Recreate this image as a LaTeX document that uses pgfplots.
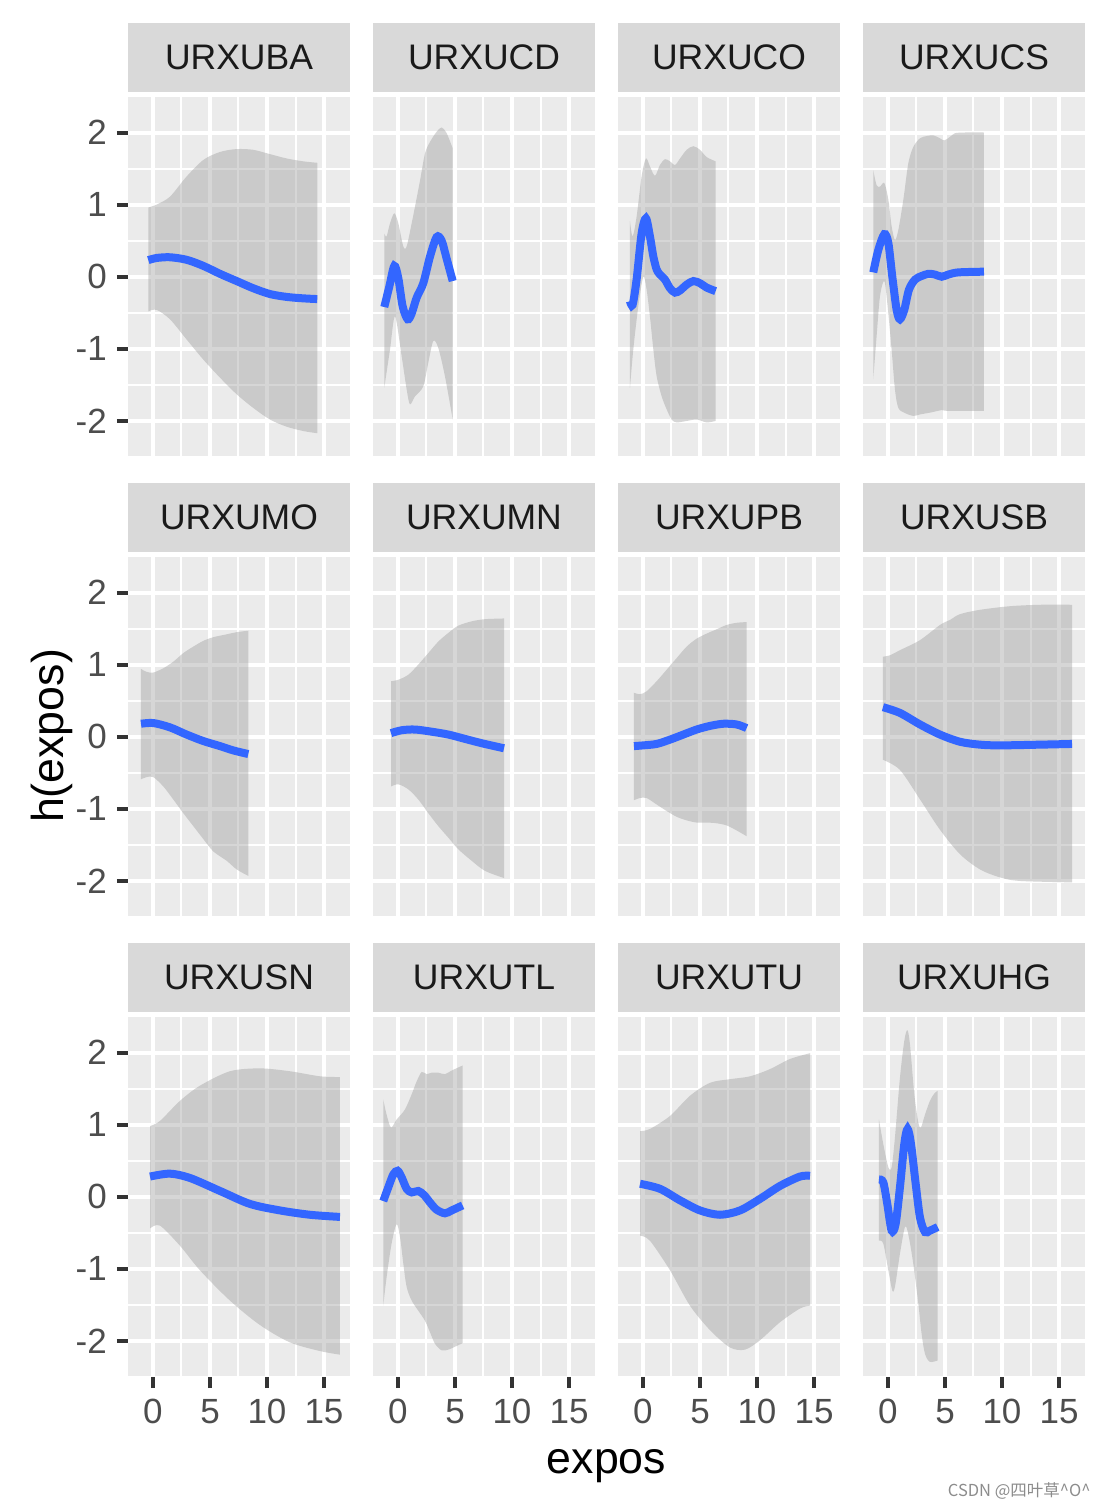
\documentclass[border=0pt]{standalone}
\usepackage{pgfplots}
\pgfplotsset{compat=1.18}
\usepgfplotslibrary{fillbetween}
\usepackage{fontspec}
\setmainfont{Liberation Sans}
\newfontfamily\cjk{Noto Sans CJK SC}

\definecolor{panelbg}{HTML}{EBEBEB}
\definecolor{stripbg}{HTML}{D9D9D9}
\definecolor{striptext}{HTML}{1A1A1A}
\definecolor{tickcol}{HTML}{333333}
\definecolor{labcol}{HTML}{4D4D4D}
\definecolor{smoothblue}{HTML}{3366FF}
\definecolor{ribbon}{HTML}{999999}

\pgfplotsset{
  facet/.style={
    width=222pt, height=362pt, scale only axis, anchor=north west,
    xmin=-2.19, xmax=17.28, ymin=-2.5, ymax=2.52,
    axis background/.style={fill=panelbg},
    axis line style={draw=none},
    xtick={0,5,10,15}, ytick={-2,-1,0,1,2},
    minor xtick={2.5,7.5,12.5},
    minor ytick={-2.5,-1.5,-0.5,0.5,1.5,2.5},
    grid=both,
    major grid style={white, line width=4pt},
    minor grid style={white, line width=2pt},
    xmajorticks=false, ymajorticks=false,
    xminorticks=false, yminorticks=false,
    xticklabels={}, yticklabels={},
    tick align=outside, major tick length=11pt, minor tick length=0pt,
    major tick style={tickcol, line width=4pt},
    minor tick style={draw=none},
    xtick pos=left, ytick pos=left,
    ticklabel style={font=\fontsize{35}{42}\selectfont, text=labcol},
    yticklabel style={anchor=east, inner sep=0pt, xshift=-10pt},
    xticklabel style={anchor=north, inner sep=0pt, yshift=-11pt},
  },
  ylab/.style={ymajorticks=true, yticklabels={-2,-1,0,1,2}},
  xlab/.style={xmajorticks=true, xticklabels={0,5,10,15}},
  band/.style={draw=none, smooth},
  fit/.style={smoothblue, line width=8pt, smooth},
  shade/.style={fill=ribbon, fill opacity=0.4, draw=none},
}

\newcommand{\strip}[2]{%
  \fill[stripbg] ([yshift=3pt]#1.north west) rectangle ([yshift=72pt]#1.north east);
  \node[font=\fontsize{35.5}{42}\selectfont, text=striptext] at ([yshift=37.5pt]#1.north) {#2};
}

\begin{document}
\begin{tikzpicture}

% ---- row 1 ----
\begin{axis}[facet, name=p1, at={(128pt,-95pt)}, ylab]
\addplot[band, name path=u1] coordinates {(-0.41,0.96)(0.32,1.00)(1.49,1.11)(2.95,1.39)(4.42,1.62)(5.88,1.73)(7.34,1.77)(8.80,1.76)(10.26,1.70)(11.73,1.64)(13.19,1.60)(14.41,1.58)};
\addplot[band, name path=l1] coordinates {(-0.41,-0.48)(0.32,-0.46)(1.49,-0.59)(2.95,-0.87)(4.42,-1.15)(5.88,-1.40)(7.34,-1.63)(8.80,-1.82)(10.26,-1.98)(11.73,-2.08)(13.19,-2.14)(14.41,-2.17)};
\addplot[shade] fill between[of=u1 and l1];
\addplot[fit] coordinates {(-0.41,0.23)(0.32,0.26)(1.49,0.27)(2.95,0.235)(4.42,0.15)(5.88,0.04)(7.34,-0.06)(8.80,-0.16)(10.26,-0.24)(11.73,-0.28)(13.19,-0.30)(14.41,-0.31)};
\end{axis}
\strip{p1}{URXUBA}

\begin{axis}[facet, name=p2, at={(373pt,-95pt)}]
\addplot[band, name path=u2] coordinates {(-1.20,0.60)(-1.0,0.56)(-0.70,0.74)(-0.32,0.88)(0.03,0.74)(0.47,0.42)(0.76,0.42)(1.20,0.74)(1.49,0.97)(1.93,1.33)(2.37,1.71)(2.81,1.87)(3.39,2.01)(3.83,2.07)(4.27,1.99)(4.80,1.78)};
\addplot[band, name path=l2] coordinates {(-1.20,-1.54)(-0.70,-1.01)(-0.26,-0.55)(0.32,-1.10)(0.76,-1.56)(1.05,-1.77)(1.49,-1.66)(2.22,-1.52)(2.66,-1.19)(3.10,-0.89)(3.54,-0.99)(4.12,-1.38)(4.80,-1.98)};
\addplot[shade] fill between[of=u2 and l2];
\addplot[fit] coordinates {(-1.20,-0.42)(-0.75,-0.13)(-0.32,0.15)(0.03,-0.02)(0.41,-0.41)(0.85,-0.59)(1.20,-0.51)(1.64,-0.29)(2.22,-0.09)(2.81,0.28)(3.39,0.55)(3.83,0.50)(4.27,0.25)(4.80,-0.06)};
\end{axis}
\strip{p2}{URXUCD}

\begin{axis}[facet, name=p3, at={(618pt,-95pt)}]
\addplot[band, name path=u3] coordinates {(-1.14,0.77)(-0.91,0.56)(-0.56,0.83)(-0.12,1.39)(0.26,1.64)(0.61,1.53)(1.05,1.40)(1.49,1.55)(1.93,1.63)(2.37,1.60)(2.81,1.55)(3.25,1.64)(3.83,1.76)(4.42,1.81)(5.0,1.76)(5.58,1.66)(6.37,1.60)};
\addplot[band, name path=l3] coordinates {(-1.14,-1.54)(-0.85,-1.01)(-0.41,-0.41)(0.03,0.0)(0.32,-0.18)(0.61,-0.55)(0.91,-1.01)(1.20,-1.38)(1.64,-1.66)(2.08,-1.84)(2.51,-1.98)(2.95,-2.02)(3.83,-2.0)(4.71,-1.98)(5.58,-2.02)(6.37,-2.0)};
\addplot[shade] fill between[of=u3 and l3];
\addplot[fit] coordinates {(-1.14,-0.34)(-0.91,-0.39)(-0.56,-0.04)(-0.12,0.60)(0.26,0.81)(0.61,0.56)(0.91,0.28)(1.20,0.10)(1.49,0.03)(1.93,-0.04)(2.37,-0.16)(2.81,-0.22)(3.25,-0.19)(3.83,-0.11)(4.42,-0.06)(5.0,-0.09)(5.58,-0.15)(6.37,-0.20)};
\end{axis}
\strip{p3}{URXUCO}

\begin{axis}[facet, name=p4, at={(863pt,-95pt)}]
\addplot[band, name path=u4] coordinates {(-1.29,1.48)(-1.0,1.27)(-0.70,1.25)(-0.32,1.30)(0.03,1.07)(0.32,0.70)(0.61,0.51)(0.91,0.65)(1.35,1.07)(1.78,1.57)(2.22,1.80)(2.81,1.92)(3.39,1.95)(3.98,1.96)(4.56,1.92)(4.94,1.89)(5.44,1.94)(5.88,1.99)(6.75,2.0)(8.42,2.0)};
\addplot[band, name path=l4] coordinates {(-1.29,-1.42)(-1.0,-0.83)(-0.70,-0.27)(-0.32,-0.06)(-0.03,-0.41)(0.32,-1.01)(0.61,-1.56)(0.91,-1.82)(1.49,-1.89)(2.22,-1.93)(2.81,-1.91)(3.83,-1.88)(4.71,-1.85)(5.15,-1.86)(5.88,-1.86)(8.42,-1.86)};
\addplot[shade] fill between[of=u4 and l4];
\addplot[fit] coordinates {(-1.29,0.06)(-0.85,0.37)(-0.32,0.59)(0.03,0.47)(0.38,0.0)(0.76,-0.46)(1.05,-0.59)(1.43,-0.46)(1.84,-0.18)(2.37,-0.04)(2.95,0.01)(3.54,0.04)(4.12,0.03)(4.71,0.0)(5.29,0.03)(6.16,0.06)(8.42,0.07)};
\end{axis}
\strip{p4}{URXUCS}

% ---- row 2 ----
\begin{axis}[facet, name=p5, at={(128pt,-555pt)}, ylab]
\addplot[band, name path=u5] coordinates {(-1.05,0.94)(-0.56,0.90)(0.03,0.89)(0.91,0.95)(1.78,1.04)(2.66,1.16)(3.54,1.25)(4.42,1.33)(5.29,1.38)(6.46,1.42)(7.34,1.45)(8.36,1.47)};
\addplot[band, name path=l5] coordinates {(-1.05,-0.59)(-0.56,-0.56)(0.03,-0.56)(0.91,-0.69)(1.78,-0.87)(2.66,-1.06)(3.54,-1.24)(4.42,-1.42)(5.29,-1.59)(6.46,-1.72)(7.34,-1.84)(8.36,-1.93)};
\addplot[shade] fill between[of=u5 and l5];
\addplot[fit] coordinates {(-1.05,0.18)(0.03,0.19)(1.49,0.13)(2.95,0.03)(4.42,-0.06)(5.88,-0.13)(7.05,-0.19)(8.36,-0.24)};
\end{axis}
\strip{p5}{URXUMO}

\begin{axis}[facet, name=p6, at={(373pt,-555pt)}]
\addplot[band, name path=u6] coordinates {(-0.61,0.77)(0.03,0.79)(0.91,0.86)(1.78,1.0)(2.66,1.16)(3.54,1.32)(4.42,1.44)(5.29,1.54)(6.46,1.60)(7.63,1.63)(9.30,1.64)};
\addplot[band, name path=l6] coordinates {(-0.61,-0.69)(0.03,-0.66)(0.91,-0.73)(1.78,-0.87)(2.66,-1.06)(3.54,-1.24)(4.42,-1.40)(5.29,-1.56)(6.46,-1.72)(7.63,-1.86)(9.30,-1.96)};
\addplot[shade] fill between[of=u6 and l6];
\addplot[fit] coordinates {(-0.61,0.05)(0.32,0.09)(1.49,0.10)(2.95,0.07)(4.42,0.03)(5.88,-0.03)(7.34,-0.09)(9.30,-0.16)};
\end{axis}
\strip{p6}{URXUMN}

\begin{axis}[facet, name=p7, at={(618pt,-555pt)}]
\addplot[band, name path=u7] coordinates {(-0.79,0.61)(-0.26,0.59)(0.32,0.63)(1.20,0.77)(2.08,0.93)(2.95,1.09)(3.83,1.25)(4.71,1.36)(5.58,1.43)(6.46,1.49)(7.34,1.55)(8.22,1.58)(9.09,1.59)};
\addplot[band, name path=l7] coordinates {(-0.79,-0.88)(-0.26,-0.85)(0.32,-0.85)(1.20,-0.94)(2.08,-1.03)(2.95,-1.11)(3.83,-1.16)(4.71,-1.19)(5.58,-1.19)(6.46,-1.20)(7.34,-1.23)(8.22,-1.30)(9.09,-1.38)};
\addplot[shade] fill between[of=u7 and l7];
\addplot[fit] coordinates {(-0.79,-0.13)(0.03,-0.12)(1.20,-0.10)(2.37,-0.04)(3.54,0.03)(4.71,0.10)(5.88,0.15)(7.05,0.18)(8.22,0.17)(9.09,0.12)};
\end{axis}
\strip{p7}{URXUPB}

\begin{axis}[facet, name=p8, at={(863pt,-555pt)}]
\addplot[band, name path=u8] coordinates {(-0.44,1.11)(0.18,1.13)(1.05,1.20)(2.81,1.34)(4.56,1.55)(5.44,1.62)(6.32,1.70)(8.07,1.76)(10.70,1.81)(13.33,1.83)(16.14,1.83)};
\addplot[band, name path=l8] coordinates {(-0.44,-0.32)(1.05,-0.46)(2.81,-0.87)(4.56,-1.29)(6.32,-1.63)(8.07,-1.84)(9.82,-1.95)(11.58,-2.0)(16.14,-2.02)};
\addplot[shade] fill between[of=u8 and l8];
\addplot[fit] coordinates {(-0.44,0.41)(1.05,0.33)(2.81,0.17)(4.56,0.03)(6.32,-0.07)(8.07,-0.11)(9.82,-0.12)(13.33,-0.11)(16.14,-0.10)};
\end{axis}
\strip{p8}{URXUSB}

% ---- row 3 ----
\begin{axis}[facet, name=p9, at={(128pt,-1015pt)}, ylab, xlab]
\addplot[band, name path=u9] coordinates {(-0.26,0.98)(0.61,1.05)(2.37,1.33)(4.12,1.54)(6.75,1.74)(9.39,1.78)(12.02,1.74)(14.65,1.67)(16.40,1.66)};
\addplot[band, name path=l9] coordinates {(-0.26,-0.44)(0.61,-0.40)(2.37,-0.68)(4.12,-1.02)(6.75,-1.44)(9.39,-1.78)(12.02,-2.02)(14.65,-2.14)(16.40,-2.19)};
\addplot[shade] fill between[of=u9 and l9];
\addplot[fit] coordinates {(-0.26,0.28)(1.49,0.32)(3.25,0.26)(5.88,0.08)(8.51,-0.10)(11.14,-0.19)(13.77,-0.25)(16.40,-0.28)};
\end{axis}
\strip{p9}{URXUSN}

\begin{axis}[facet, name=p10, at={(373pt,-1015pt)}, xlab]
\addplot[band, name path=u10] coordinates {(-1.29,1.35)(-1.0,1.14)(-0.61,0.96)(-0.12,1.07)(0.61,1.21)(1.20,1.42)(1.64,1.60)(2.08,1.73)(2.51,1.70)(2.95,1.72)(3.54,1.72)(4.12,1.70)(4.71,1.75)(5.67,1.82)};
\addplot[band, name path=l10] coordinates {(-1.29,-1.51)(-1.0,-1.12)(-0.56,-0.65)(-0.12,-0.38)(0.18,-0.56)(0.47,-0.93)(0.76,-1.25)(1.20,-1.44)(1.78,-1.58)(2.37,-1.72)(2.81,-1.88)(3.25,-2.04)(3.83,-2.13)(4.42,-2.12)(5.0,-2.08)(5.67,-2.03)};
\addplot[shade] fill between[of=u10 and l10];
\addplot[fit] coordinates {(-1.29,-0.06)(-0.85,0.13)(-0.41,0.31)(-0.03,0.36)(0.32,0.27)(0.76,0.11)(1.20,0.06)(1.78,0.08)(2.31,0.02)(2.81,-0.08)(3.39,-0.18)(4.12,-0.23)(4.71,-0.19)(5.67,-0.12)};
\end{axis}
\strip{p10}{URXUTL}

\begin{axis}[facet, name=p11, at={(618pt,-1015pt)}, xlab]
\addplot[band, name path=u11] coordinates {(-0.26,0.91)(0.61,0.94)(2.37,1.12)(4.12,1.40)(5.88,1.58)(7.63,1.63)(9.39,1.67)(11.14,1.77)(12.89,1.91)(14.65,1.99)};
\addplot[band, name path=l11] coordinates {(-0.26,-0.54)(0.61,-0.61)(2.37,-1.02)(4.12,-1.51)(5.88,-1.85)(7.63,-2.09)(8.95,-2.12)(10.26,-1.99)(12.02,-1.74)(13.77,-1.55)(14.65,-1.51)};
\addplot[shade] fill between[of=u11 and l11];
\addplot[fit] coordinates {(-0.26,0.18)(1.49,0.11)(3.25,-0.05)(5.0,-0.19)(6.75,-0.25)(8.51,-0.19)(10.26,-0.03)(12.02,0.15)(13.77,0.28)(14.65,0.29)};
\end{axis}
\strip{p11}{URXUTU}

\begin{axis}[facet, name=p12, at={(863pt,-1015pt)}, xlab]
\addplot[band, name path=u12] coordinates {(-0.79,1.07)(-0.41,0.73)(0.03,0.41)(0.32,0.41)(0.61,0.82)(1.05,1.65)(1.43,2.16)(1.70,2.31)(1.93,2.11)(2.31,1.42)(2.66,1.03)(2.89,0.96)(3.25,1.14)(3.68,1.33)(4.06,1.43)(4.36,1.47)};
\addplot[band, name path=l12] coordinates {(-0.79,-0.61)(-0.41,-0.65)(0.03,-1.02)(0.38,-1.30)(0.61,-1.25)(1.05,-0.79)(1.49,-0.42)(1.78,-0.52)(2.22,-0.93)(2.66,-1.48)(2.95,-1.90)(3.25,-2.18)(3.68,-2.29)(4.36,-2.27)};
\addplot[shade] fill between[of=u12 and l12];
\addplot[fit] coordinates {(-0.79,0.24)(-0.41,0.20)(-0.06,-0.10)(0.32,-0.47)(0.67,-0.38)(1.05,0.13)(1.43,0.73)(1.72,0.94)(2.02,0.73)(2.43,0.18)(2.81,-0.29)(3.25,-0.49)(3.68,-0.47)(4.36,-0.42)};
\end{axis}
\strip{p12}{URXUHG}

% ---- titles ----
\node[anchor=base, font=\fontsize{44.7}{52}\selectfont] at (606.5pt,-1473pt) {expos};
\node[anchor=base, rotate=90, font=\fontsize{44.7}{52}\selectfont] at (63pt,-736pt) {h(expos)};
\node[anchor=base east, font=\cjk\fontsize{16.5}{20}\selectfont, text=black!45] at (1094pt,-1496pt) {CSDN @四叶草\textasciicircum O\textasciicircum};

\pgfresetboundingbox
\useasboundingbox (0,0) rectangle (1108pt,-1508pt);
\end{tikzpicture}
\end{document}
